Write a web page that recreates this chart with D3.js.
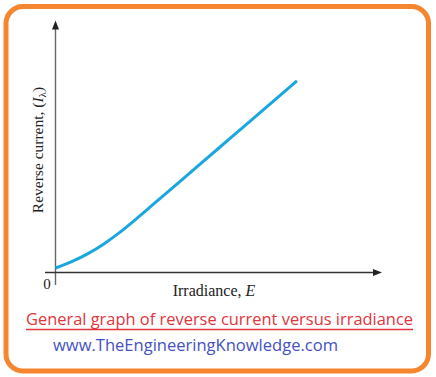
<!DOCTYPE html>
<html><head><meta charset="utf-8">
<script src="https://cdn.jsdelivr.net/npm/d3@7"></script>
<style>html,body{margin:0;padding:0;background:#fff;}svg{display:block;}</style>
</head><body>
<script>
// Data (arbitrary units): irradiance E vs reverse current I_lambda
const irradiance = [0, 5, 10, 15, 20, 25, 30, 40, 50, 60, 74.4];
const reverseCurrent = [1.8, 4.3, 7.5, 11.5, 16.2, 21.5, 27.0, 38.1, 49.2, 60.3, 76.3];
const xLabel = "Irradiance, ";
const xLabelVar = "E";
const yLabel = "Reverse current, (";
const originLabel = "0";
const caption = "General graph of reverse current versus irradiance";
const website = "www.TheEngineeringKnowledge.com";

const W = 436, H = 377;
const svg = d3.select("body").append("svg").attr("width", W).attr("height", H);

// Orange rounded frame
svg.append("rect").attr("x", 6).attr("y", 6.5).attr("width", 422.5).attr("height", 364.5)
  .attr("rx", 17).attr("fill", "#fff").attr("stroke", "#f5862f").attr("stroke-width", 5);

const x = d3.scaleLinear().domain([0, 100]).range([55.5, 380]);
const y = d3.scaleLinear().domain([0, 100]).range([272.5, 21.5]);

// Axes (arrowed lines)
svg.append("line").attr("x1", x(0)).attr("x2", x(0)).attr("y1", 285).attr("y2", y(100) + 6)
  .attr("stroke", "#666").attr("stroke-width", 1.4);
svg.append("path").attr("d", `M${x(0)},${y(100) - 1} L${x(0) - 3.5},${y(100) + 8} L${x(0) + 3.5},${y(100) + 8} Z`)
  .attr("fill", "#222");
svg.append("line").attr("x1", 45).attr("x2", x(100) - 4).attr("y1", y(0)).attr("y2", y(0))
  .attr("stroke", "#333").attr("stroke-width", 1.4);
svg.append("path").attr("d", `M${x(100) + 2},${y(0)} L${x(100) - 7},${y(0) - 3.5} L${x(100) - 7},${y(0) + 3.5} Z`)
  .attr("fill", "#222");

// Curve
const pts = irradiance.map((e, i) => [e, reverseCurrent[i]]);
svg.append("path").datum(pts)
  .attr("d", d3.line().x(d => x(d[0])).y(d => y(d[1])).curve(d3.curveMonotoneX))
  .attr("fill", "none").attr("stroke", "#1aa7de").attr("stroke-width", 3).attr("stroke-linecap", "butt");

const serif = "'Liberation Serif', 'Times New Roman', serif";
// Origin label
svg.append("text").attr("x", 47).attr("y", 288.5).attr("text-anchor", "middle")
  .attr("font-family", serif).attr("font-size", 15).attr("fill", "#222").text(originLabel);

// X label
const xl = svg.append("text").attr("x", 214).attr("y", 296).attr("text-anchor", "middle")
  .attr("font-family", serif).attr("font-size", 16).attr("fill", "#222");
xl.append("tspan").text(xLabel);
xl.append("tspan").attr("font-style", "italic").text(xLabelVar);

// Y label
const yl = svg.append("text").attr("transform", "translate(43,150) rotate(-90)").attr("text-anchor", "middle")
  .attr("font-family", serif).attr("font-size", 15.5).attr("fill", "#222");
yl.append("tspan").text(yLabel);
yl.append("tspan").attr("font-style", "italic").text("I");
yl.append("tspan").attr("font-size", 11).attr("dy", 3).text("λ");
yl.append("tspan").attr("dy", -3).text(")");

// Caption
const sans = "'Open Sans', 'Noto Sans', sans-serif";
svg.append("text").attr("x", 26).attr("y", 325).attr("textLength", 387).attr("lengthAdjust", "spacingAndGlyphs")
  .attr("font-family", sans).attr("font-size", 17).attr("fill", "#e0353c").text(caption);
svg.append("line").attr("x1", 26).attr("x2", 413).attr("y1", 329.5).attr("y2", 329.5)
  .attr("stroke", "#e0353c").attr("stroke-width", 1.3);

svg.append("text").attr("x", 53).attr("y", 351).attr("textLength", 285).attr("lengthAdjust", "spacingAndGlyphs")
  .attr("font-family", sans).attr("font-size", 17).attr("fill", "#4452c2").text(website);
</script>
</body></html>
